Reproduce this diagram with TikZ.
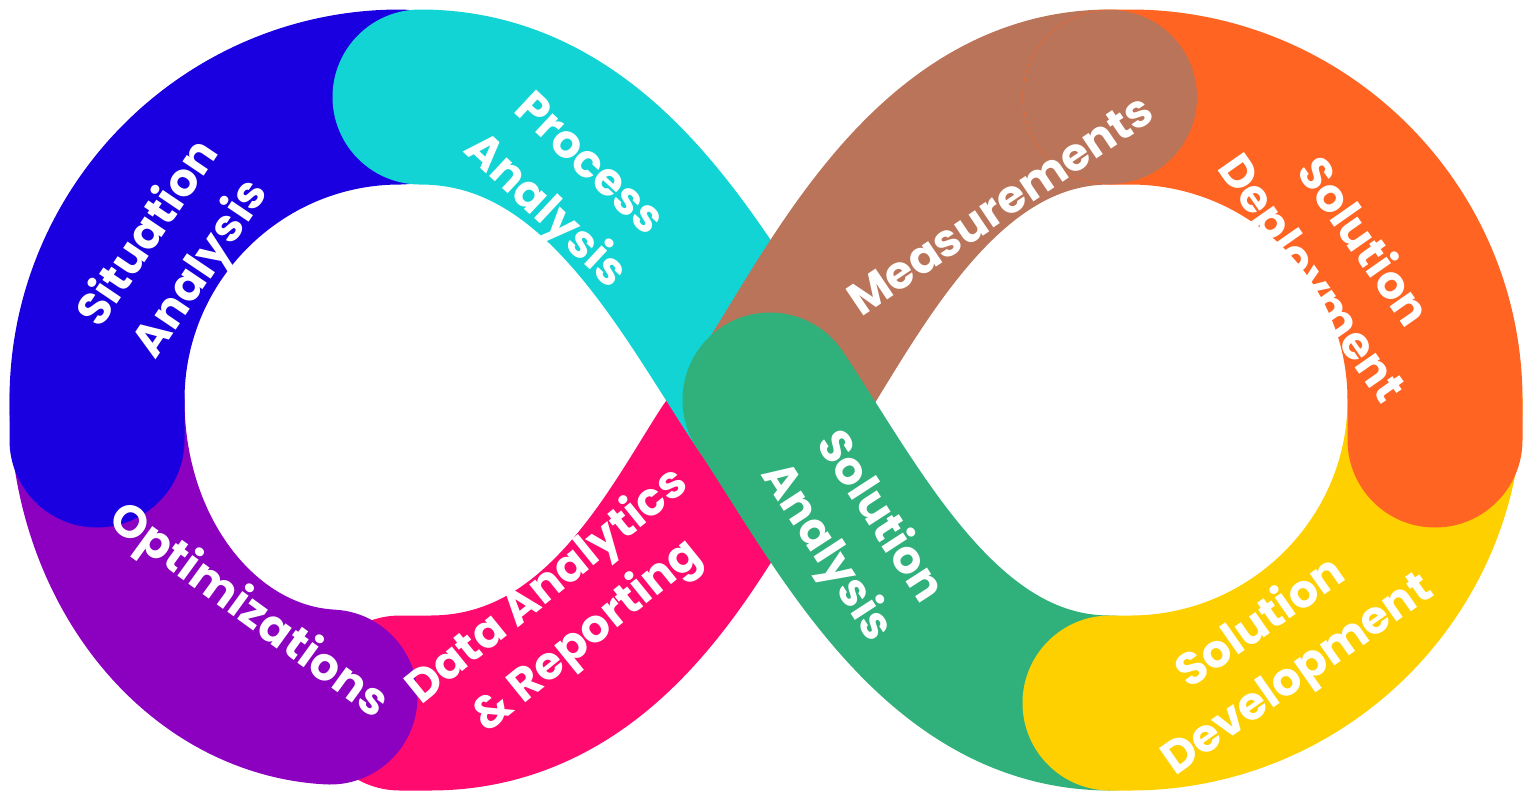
\documentclass[tikz,border=0pt]{standalone}
\usepackage{fontspec}
\setmainfont{Poppins}
\tikzstyle{every path}=[line cap=round,line join=round]
\tikzstyle{band}=[line width=175*0.02cm]
\tikzstyle{lbl}=[text=white,font=\bfseries\fontsize{26}{36}\selectfont,align=center,inner sep=0pt]
\definecolor{sitblue}{HTML}{1A00E0}
\definecolor{proccyan}{HTML}{12D4D4}
\definecolor{solgreen}{HTML}{30B07A}
\definecolor{measbrown}{HTML}{BA7459}
\definecolor{deplorange}{HTML}{FF6422}
\definecolor{devyellow}{HTML}{FFD000}
\definecolor{datapink}{HTML}{FF0A6E}
\definecolor{optpurple}{HTML}{8C00C0}

\begin{document}
\begin{tikzpicture}[x=0.02cm,y=-0.02cm]
    \useasboundingbox (0,0) rectangle (1536,806);

    % Left loop, lower half
    \draw[band,datapink] (400,703) -- (430,703) .. controls (600,703) and (680,540) .. (735,455);
    \draw[band,optpurple] (97,400) .. controls (97,560) and (200,690) .. (330,697);
    \draw[band,sitblue] (97,440) -- (97,400) .. controls (97,233) and (233,97) .. (400,97);

    % Crossing
    \draw[band,proccyan] (420,97) .. controls (600,97) and (690,280) .. (770,400);
    \draw[band,measbrown] (780,390) .. controls (850,280) and (940,97) .. (1110,97);
    \draw[band,solgreen] (770,400) .. controls (850,520) and (940,703) .. (1110,703);

    % Right loop
    \draw[band,devyellow] (1110,703) -- (1130,703) .. controls (1298,703) and (1435,567) .. (1435,400);
    \draw[band,deplorange] (1110,97) -- (1130,97) .. controls (1298,97) and (1435,233) .. (1435,400) -- (1435,440);
    \fill[measbrown] (1110,97) circle (87);

    % Labels
    \node[lbl,rotate=56] (sit) at (176,252) {Situation\\Analysis};
    \node[lbl,rotate=-43] (proc) at (565,190) {Process\\Analysis};
    \node[lbl,rotate=34] (meas) at (1000,205) {Measurements};
    \node[lbl,rotate=-55] (depl) at (1335,262) {Solution\\Deployment};
    \node[lbl,rotate=35] (dev) at (1280,650) {Solution\\Development};
    \node[lbl,rotate=-57] (sol) at (852,535) {Solution\\Analysis};
    \node[lbl,rotate=39] (data) at (568,612) {Data Analytics\\\& Reporting};
    \node[lbl,rotate=-36] (opt) at (248,612) {Optimizations};
\end{tikzpicture}
\end{document}
